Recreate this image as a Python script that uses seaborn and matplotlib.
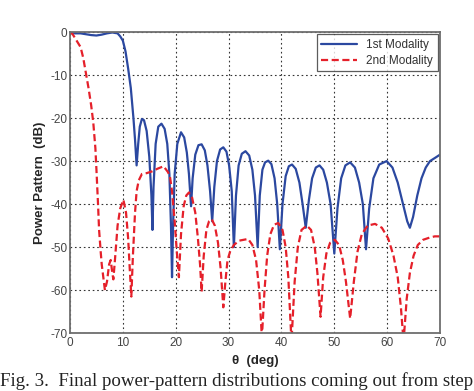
import matplotlib
matplotlib.use("Agg")
import matplotlib.pyplot as plt
import seaborn as sns
import pandas as pd

# 1st modality (theta in deg, power pattern in dB)
theta_1 = [0, 1, 2, 3, 4, 5, 6, 7, 8, 9, 9.5, 10, 10.5, 11, 11.5, 12, 12.3, 12.6, 12.9, 13.2,
           13.6, 14.0, 14.5, 15.0, 15.4, 15.6, 15.8, 16.2, 16.7, 17.3, 17.9, 18.4, 18.8, 19.1,
           19.3, 19.5, 19.8, 20.3, 21.0, 21.6, 22.1, 22.5, 22.9, 23.2, 23.7, 24.3, 24.9, 25.5,
           26.0, 26.5, 26.9, 27.3, 27.8, 28.4, 29.0, 29.6, 30.1, 30.6, 31.0, 31.4, 31.9, 32.5,
           33.2, 33.9, 34.5, 35.0, 35.5, 35.9, 36.4, 36.9, 37.5, 38.1, 38.7, 39.2, 39.7, 40.2,
           40.8, 41.4, 42.0, 42.7, 43.4, 44.0, 44.6, 45.2, 45.8, 46.5, 47.2, 47.9, 48.6, 49.3,
           50.0, 50.6, 51.3, 52.1, 53.0, 53.9, 54.7, 55.4, 56.0, 56.6, 57.4, 58.5, 59.9, 61.0,
           62.0, 63.0, 63.8, 64.3, 64.9, 65.7, 66.5, 67.3, 68.1, 69.0, 70.0]
power_1 = [-0.2, -0.3, -0.3, -0.5, -0.7, -0.8, -0.6, -0.3, -0.1, -0.3, -1, -2, -4.5, -8.5, -13,
           -20, -25, -31, -26, -22, -20.2, -20.5, -23, -29, -38, -46, -36, -26, -22, -21.3,
           -22.5, -26, -33, -45, -57, -45, -33, -26, -23.3, -24.5, -28, -33, -40.5, -34, -28.5,
           -26.3, -26.1, -27.5, -31, -37, -44, -36, -30, -27.3, -26.8, -27.8, -31, -37, -50,
           -38, -31, -28.3, -27.7, -28.7, -32, -38, -50, -38, -32, -30.3, -29.9, -30.7, -34,
           -40, -50.5, -40, -33.5, -31.2, -30.8, -31.8, -35, -40, -45.5, -39, -34, -31.5, -31,
           -32, -35, -40, -51.5, -41, -34, -31, -30.3, -31.5, -35, -40, -50.5, -41, -34, -30.8,
           -30.0, -31.5, -35, -40, -44, -45.5, -43, -38, -34, -31.5, -30, -29.3, -28.5]

# 2nd modality
theta_2 = [0, 0.5, 1.0, 1.5, 2.0, 2.5, 3.0, 3.5, 4.0, 4.4, 4.8, 5.0, 5.3, 5.5, 5.8, 6.0, 6.3,
           6.6, 7.0, 7.4, 7.7, 8.0, 8.2, 8.5, 9.0, 9.5, 10.1, 10.6, 11.0, 11.3, 11.6, 11.9,
           12.3, 12.6, 13.0, 13.6, 14.5, 15.5, 16.5, 17.7, 18.5, 18.9, 19.3, 19.8, 20.2, 20.6,
           21.0, 21.5, 22.0, 22.5, 23.1, 23.7, 24.2, 24.6, 24.9, 25.3, 25.8, 26.3, 26.8, 27.4,
           28.0, 28.5, 29.0, 29.4, 29.8, 30.3, 31.0, 32.0, 33.7, 34.5, 35.2, 35.8, 36.3, 36.8,
           37.3, 37.9, 38.6, 39.4, 40.2, 40.8, 41.3, 41.9, 42.5, 43.1, 43.8, 44.8, 45.6, 46.3,
           46.8, 47.4, 47.9, 48.5, 49.2, 50.1, 50.9, 51.6, 52.2, 53.0, 53.7, 54.4, 55.2, 56.3,
           57.7, 59.0, 60.2, 61.2, 62.0, 62.6, 63.1, 63.7, 64.3, 65.0, 65.8, 66.8, 68.0, 69.0,
           70.0]
power_2 = [0, -0.5, -1.5, -2.5, -3.5, -6, -9.5, -13, -17, -21, -27, -32, -40, -46, -51, -54,
           -57, -60, -58, -54, -53, -56, -57.5, -53, -45, -41, -39, -42, -48, -55, -61.5, -52,
           -42, -37, -34.5, -33, -32.8, -32.4, -31.8, -31.2, -32.5, -33.5, -37, -44, -51, -57,
           -47, -40.5, -38, -37.3, -38.5, -42, -48, -54, -60.4, -52, -46, -44, -43.5, -45, -49,
           -55, -64, -58, -53, -51, -49.5, -48.5, -48.1, -49.5, -53, -60, -71, -60, -52, -47,
           -44.8, -44.4, -46, -50, -57, -72, -58, -50, -46, -45, -46, -50, -56, -66.2, -57,
           -51.5, -49, -48.3, -49.5, -53, -58, -66.6, -58, -51, -47, -45, -44.6, -45.5, -48,
           -52, -57, -64, -72, -62, -56, -52, -49.5, -48.3, -47.8, -47.5, -47.5]

x_ticks = [0, 10, 20, 30, 40, 50, 60, 70]
y_ticks = [0, -10, -20, -30, -40, -50, -60, -70]

df1 = pd.DataFrame({"theta": theta_1, "power": power_1})
df2 = pd.DataFrame({"theta": theta_2, "power": power_2})

sns.set_style("white")
plt.rcParams["font.family"] = ["Liberation Sans", "DejaVu Sans"]
plt.rcParams["axes.unicode_minus"] = False

fig = plt.figure(figsize=(4.74, 3.91), dpi=100)
ax = fig.add_axes([0.1477, 0.148, 0.7806, 0.770])

sns.lineplot(data=df1, x="theta", y="power", ax=ax, color="#2b48a0", lw=1.6,
             sort=False, label="1st Modality")
sns.lineplot(data=df2, x="theta", y="power", ax=ax, color="#e5202a", lw=1.6,
             sort=False, label="2nd Modality", dashes=False, linestyle=(0, (3.2, 1.6)))

ax.set_xlim(0, 70)
ax.set_ylim(-70, 0)
ax.set_xticks(x_ticks)
ax.set_yticks(y_ticks)
ax.grid(True, color="#333333", linestyle=(0, (1.5, 2.5)), lw=0.8)
ax.tick_params(axis="both", direction="in", length=3, labelsize=8.5,
               labelcolor="#444444", color="#555555", pad=2)
ax.tick_params(axis="x", pad=3)
for sp in ax.spines.values():
    sp.set_color("#6e6e6e")
    sp.set_linewidth(1.3)

ax.set_xlabel("θ  (deg)", fontsize=9.5, fontweight="bold", labelpad=4)
ax.set_ylabel("Power Pattern  (dB)", fontsize=9.5, fontweight="bold", labelpad=3)

leg = ax.legend(loc="upper right", fontsize=8.5, frameon=True, fancybox=False,
                borderaxespad=0.2, handlelength=3.0, borderpad=0.4, labelspacing=0.3)
leg.get_frame().set_edgecolor("#333333")
leg.get_frame().set_linewidth(0.9)
for t in leg.get_texts():
    t.set_color("#333333")

fig.text(0.0, 0.012, "Fig. 3.  Final power-pattern distributions coming out from step",
         fontsize=13.6, family=["Liberation Serif", "DejaVu Serif"], color="#222222")

fig.savefig("out.png", dpi=100)
